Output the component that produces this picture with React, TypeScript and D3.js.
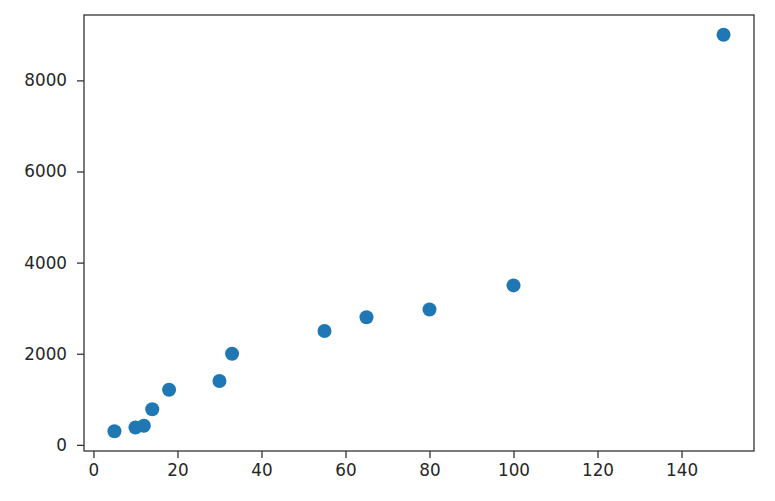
import React, { useEffect, useRef } from 'react';
import * as d3 from 'd3';

// scatter data
const xValues = [5, 10, 12, 14, 18, 30, 33, 55, 65, 80, 100, 150];
const yValues = [300, 380, 420, 780, 1210, 1400, 2000, 2500, 2800, 2970, 3500, 9000];
const xTicks = [0, 20, 40, 60, 80, 100, 120, 140];
const yTicks = [0, 2000, 4000, 6000, 8000];

const width = 775;
const height = 501;
const margin = { top: 15, right: 21, bottom: 50, left: 84 };

export default function App() {
  const svgRef = useRef<SVGSVGElement>(null);

  useEffect(() => {
    if (!svgRef.current) return;
    const svg = d3.select(svgRef.current);
    svg.selectAll('*').remove();

    // matplotlib-style 5% padding around the data
    const [xMin, xMax] = d3.extent(xValues) as [number, number];
    const [yMin, yMax] = d3.extent(yValues) as [number, number];
    const xPad = (xMax - xMin) * 0.05;
    const yPad = (yMax - yMin) * 0.05;

    const x = d3.scaleLinear()
      .domain([xMin - xPad, xMax + xPad])
      .range([margin.left, width - margin.right]);
    const y = d3.scaleLinear()
      .domain([yMin - yPad, yMax + yPad])
      .range([height - margin.bottom, margin.top]);

    const font = '"DejaVu Sans", sans-serif';
    const axisColor = '#333';
    const fmt = d3.format('d');

    const xAxis = svg.append('g')
      .attr('transform', `translate(0,${height - margin.bottom})`)
      .call(d3.axisBottom(x).tickValues(xTicks).tickFormat(fmt as any)
        .tickSize(7).tickSizeOuter(0).tickPadding(6));
    const yAxis = svg.append('g')
      .attr('transform', `translate(${margin.left},0)`)
      .call(d3.axisLeft(y).tickValues(yTicks).tickFormat(fmt as any)
        .tickSize(7).tickSizeOuter(0).tickPadding(10));

    [xAxis, yAxis].forEach(g => {
      g.select('.domain').remove();
      g.selectAll('line').attr('stroke', axisColor).attr('stroke-width', 1.3);
      g.selectAll('text')
        .attr('fill', '#262626')
        .style('font-family', font)
        .style('font-size', '16.8px');
    });

    // frame
    svg.append('rect')
      .attr('x', margin.left)
      .attr('y', margin.top)
      .attr('width', width - margin.left - margin.right)
      .attr('height', height - margin.top - margin.bottom)
      .attr('fill', 'none')
      .attr('stroke', axisColor)
      .attr('stroke-width', 1.3);

    svg.selectAll('.dot')
      .data(xValues)
      .enter().append('circle')
      .attr('class', 'dot')
      .attr('cx', d => x(d))
      .attr('cy', (_, i) => y(yValues[i]))
      .attr('r', 7)
      .attr('fill', '#1f77b4');
  }, []);

  return (
    <svg
      ref={svgRef}
      width={width}
      height={height}
      style={{ position: 'absolute', left: 0, top: 0, background: '#fff' }}
    />
  );
}
